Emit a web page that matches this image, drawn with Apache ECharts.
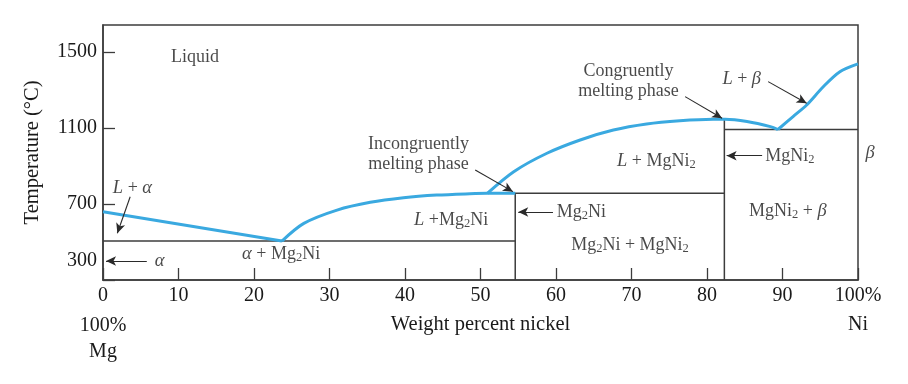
<!DOCTYPE html>
<html>
<head>
<meta charset="utf-8">
<script src="https://cdn.jsdelivr.net/npm/echarts@6/dist/echarts.min.js"></script>
<style>html,body{margin:0;padding:0;background:#fff}#c{width:908px;height:384px}</style>
</head>
<body>
<div id="c"></div>
<script>
// ---- data (weight % Ni, temperature °C) ----
const xTicks = [0,10,20,30,40,50,60,70,80,90,100];
const yTicks = [300,700,1100,1500];
const leftLiquidus = [[0,659],[23.7,505]];
const mg2niLiquidus = [[23.7,505],[26.6,598],[31.0,668],[35.4,709],[39.8,733],[44.2,747],[48.6,754],[50.9,756],[54.6,756]];
const mgni2Liquidus = [[50.9,756],[54.4,870],[58.8,967],[63.2,1037],[67.6,1089],[72.0,1121],[76.4,1138],[80.8,1146],[82.4,1146],[85.3,1134],[88.4,1107],[89.4,1092]];
const niLiquidus = [[89.4,1092],[91.4,1160],[93.2,1221],[95.4,1317],[97.6,1396],[100,1437]];
const eutecticLine = [[0,505],[54.6,505]];
const peritecticLine = [[50.9,756],[82.3,756]];
const mgni2EutLine = [[82.3,1092],[100,1092]];
const mg2niVertical = [[54.6,300],[54.6,756]];
const mgni2Vertical = [[82.3,300],[82.3,1146]];
// annotations: [x, y, text, position]
const notes = [
  [12.2,1474,'Liquid','inside'],
  [3.9,784,'{i|L} + {i|α}','inside'],
  [7.5,400,'{i|α}','inside'],
  [23.6,437,'{i|α} + Mg{s|2}Ni','inside'],
  [46.1,616,'{i|L} +Mg{s|2}Ni','inside'],
  [41.8,963,'Incongruently\nmelting phase','inside'],
  [60.1,658,'Mg{s|2}Ni','right'],
  [69.8,484,'Mg{s|2}Ni + MgNi{s|2}','inside'],
  [69.6,1347,'Congruently\nmelting phase','inside'],
  [84.6,1358,'{i|L} + {i|β}','inside'],
  [73.3,926,'{i|L} + MgNi{s|2}','inside'],
  [87.7,953,'MgNi{s|2}','right'],
  [101.6,968,'{i|β}','inside'],
  [90.7,663,'MgNi{s|2} + {i|β}','inside']
];
const arrows = [
  [[3.6,738],[1.9,546]],
  [[5.8,400],[0.4,400]],
  [[49.3,879],[54.3,765]],
  [[59.6,658],[55.0,658]],
  [[77.1,1265],[82.0,1151]],
  [[88.1,1344],[93.2,1230]],
  [[87.3,954],[82.6,954]]
];

const FONT = '"Liberation Serif", "Times New Roman", serif';
const TXT = '#1a1a1a';
const BLK = '#3c3c3c';
const BLUE = '#3aa9e0';
const rich = {
  i: {fontFamily: FONT, fontStyle: 'italic', fontSize: 18.5, color: TXT, lineHeight: 20},
  s: {fontFamily: FONT, fontSize: 12.5, color: TXT, lineHeight: 11, verticalAlign: 'bottom'}
};

function boundary(d){
  return {type:'line', data:d, showSymbol:false, silent:true, animation:false,
          lineStyle:{color:BLK, width:1.5}, z:2};
}
function liquidus(d, sm){
  return {type:'line', data:d, showSymbol:false, silent:true, animation:false, smooth:sm,
          lineStyle:{color:BLUE, width:3}, z:3};
}

const chart = echarts.init(document.getElementById('c'), null, {renderer:'canvas'});
chart.setOption({
  backgroundColor:'#fff',
  animation:false,
  grid:{left:103, right:50, top:25, bottom:104, show:true, borderColor:BLK, borderWidth:1.5,
        backgroundColor:'transparent', containLabel:false, outerBoundsMode:'none'},
  xAxis:{
    type:'value', min:0, max:100, interval:10,
    name:'Weight percent nickel', nameLocation:'middle', nameGap:34, nameMoveOverlap:false,
    nameTextStyle:{fontFamily:FONT, fontSize:20.5, color:TXT},
    axisLine:{show:true, lineStyle:{color:BLK, width:1.5}},
    axisTick:{show:true, inside:true, length:12, lineStyle:{color:BLK, width:1.3}},
    splitLine:{show:false},
    axisLabel:{
      margin:6, fontFamily:FONT, fontSize:20, color:TXT, lineHeight:20,
      formatter:function(v){
        if (v===0) return '{t|0}\n{g|100%}\n{m|Mg}';
        if (v===100) return '{t|100%}\n{n|Ni}';
        return String(v);
      },
      rich:{
        t:{fontFamily:FONT, fontSize:20, color:TXT, lineHeight:20},
        g:{fontFamily:FONT, fontSize:20, color:TXT, lineHeight:40},
        m:{fontFamily:FONT, fontSize:20, color:TXT, lineHeight:12},
        n:{fontFamily:FONT, fontSize:20, color:TXT, lineHeight:38}
      }
    }
  },
  yAxis:{
    type:'value', min:300, max:1642, interval:400,
    name:'Temperature (°C)', nameLocation:'middle', nameGap:60, nameRotate:90, nameMoveOverlap:false,
    nameTextStyle:{fontFamily:FONT, fontSize:20.5, color:TXT},
    axisLine:{show:true, lineStyle:{color:BLK, width:1.5}},
    axisTick:{show:true, inside:true, length:12, lineStyle:{color:BLK, width:1.3}},
    splitLine:{show:false},
    axisLabel:{
      margin:6, fontFamily:FONT, fontSize:20, color:TXT,
      showMaxLabel:false,
      formatter:function(v){ return v===300 ? '{lift|300}' : String(v); },
      rich:{ lift:{fontFamily:FONT, fontSize:20, color:TXT, padding:[0,0,38,0]} }
    }
  },
  series:[
    boundary(eutecticLine),
    boundary(peritecticLine),
    boundary(mgni2EutLine),
    boundary(mg2niVertical),
    boundary(mgni2Vertical),
    liquidus(leftLiquidus, false),
    liquidus(mg2niLiquidus, 0.3),
    liquidus(mgni2Liquidus, 0.3),
    liquidus(niLiquidus, 0.3),
    {
      type:'scatter', symbolSize:0, silent:true, animation:false, clip:false, z:5,
      data: notes.map(function(n){
        return {value:[n[0], n[1]], label:{
          show:true, position:n[3], distance:0, formatter:n[2],
          fontFamily:FONT, fontSize:18, color:TXT, lineHeight:20, align: n[3]==='right' ? 'left' : 'center',
          rich:rich
        }};
      })
    },
    {
      type:'line', data:[], silent:true, animation:false, z:4,
      markLine:{
        silent:true, animation:false, symbol:['none','arrow'], symbolSize:[7,10],
        label:{show:false},
        lineStyle:{color:'#2a2a2a', width:1.1, type:'solid'},
        data: arrows.map(function(a){ return [{coord:a[0]},{coord:a[1]}]; })
      }
    }
  ]
});
</script>
</body>
</html>
